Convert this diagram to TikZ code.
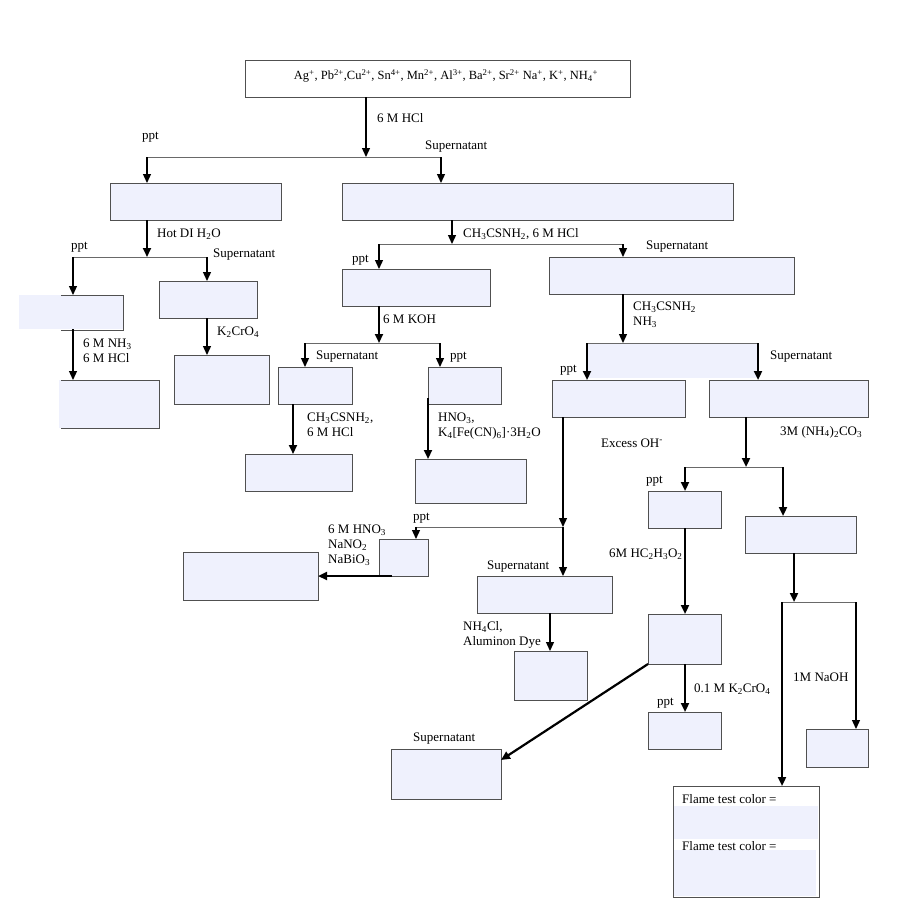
\documentclass[tikz,border=0pt]{standalone}
\usepackage{fontspec}
\setmainfont{Liberation Serif}
\usetikzlibrary{arrows.meta}
\definecolor{boxfill}{RGB}{239,241,253}
\definecolor{bordc}{RGB}{80,80,80}
\definecolor{hlc}{RGB}{105,105,105}
\newcommand\sub[1]{\textsubscript{#1}}
\newcommand\spr[1]{\textsuperscript{#1}}
\newcommand\bx[6][]{\node[bxs,#1,minimum width={#5-#3},minimum height={#6-#4}] (#2) at ({(#3+#5)/2},{(#4+#6)/2}) {};}
\begin{document}
\begin{tikzpicture}[x=1pt,y=-1pt,font=\fontsize{13}{15}\selectfont,
  bxs/.style={draw=bordc,fill=boxfill,line width=0.9pt,inner sep=0pt,outer sep=0pt},
  bd/.style={draw=bordc,line width=0.9pt},
  lbl/.style={inner sep=0pt,anchor=west,align=left},
  arr/.style={line width=1.3pt,-{Triangle[width=8pt,length=9pt]}},
  arrT/.style={line width=2.2pt,-{Triangle[width=8pt,length=9pt]}},
  hl/.style={draw=hlc,line width=0.9pt}]
\useasboundingbox (0,0) rectangle (905,902);
% boxes
\bx[fill=white]{top}{245}{60}{630}{97}
\bx{A}{110}{183}{281}{220}
\bx{B}{342}{183}{733}{220}
\bx[draw=none]{C}{19}{295}{123}{329}
\bx[draw=none]{D}{59}{380}{159}{428}
\bx{E}{159}{281}{257}{318}
\bx{F}{174}{355}{269}{404}
\bx{G}{342}{269}{490}{306}
\bx{H}{549}{257}{794}{294}
\bx{I}{278}{367}{352}{404}
\bx{J}{428}{367}{501}{404}
\bx{K}{245}{454}{352}{491}
\bx{L}{415}{459}{526}{503}
\bx[draw=none]{M}{587}{343}{758}{378}
\bx{N}{552}{380}{685}{417}
\bx{O}{709}{380}{868}{417}
\bx{P}{379}{539}{428}{576}
\bx{Q}{477}{576}{612}{613}
\bx{R}{183}{552}{318}{600}
\bx{S}{514}{651}{587}{700}
\bx{T}{648}{491}{721}{528}
\bx{U}{745}{516}{856}{553}
\bx{V}{648}{614}{721}{664}
\bx{W}{648}{712}{721}{749}
\bx{X}{391}{749}{501}{799}
\bx[fill=white]{Y}{673}{786}{819}{897}
\bx{Z}{806}{729}{868}{767}
\draw[bd] ([xshift=42pt]C.north west) -- (C.north east) -- ([yshift=-1pt]C.south east) -- ([xshift=42pt,yshift=-1pt]C.south west);
\draw[bd] ([xshift=2pt]D.north west) -- (D.north east) -- (D.south east) -- ([xshift=2pt]D.south west);
\fill[boxfill] (673.6,806) rectangle (818.4,839);
\fill[boxfill] (673.6,850) rectangle (816,896.4);
% coordinates
\coordinate (j1) at (366,157); \coordinate (j1a) at (147,157); \coordinate (j1b) at (441,157);
\coordinate (j2) at (147,257); \coordinate (j2a) at (73,257); \coordinate (j2b) at (207,257);
\coordinate (j3) at (452,244); \coordinate (j3a) at (379,244); \coordinate (j3b) at (623,244);
\coordinate (j4) at (379,343); \coordinate (j4a) at (305,343); \coordinate (j4b) at (440,343);
\coordinate (cI) at (293,0);
\coordinate (j5) at (563,527); \coordinate (j5a) at (416,527);
\coordinate (pr) at (392,576);
\coordinate (cQ) at (550,0);
\coordinate (j6) at (746,467); \coordinate (j6a) at (685,467); \coordinate (j6b) at (783,467);
\coordinate (xend) at (501,760);
\coordinate (j7) at (794,602); \coordinate (j7a) at (782,602); \coordinate (j7b) at (856,602);
% connectors
\draw[arr] (top.south -| j1) -- (j1);
\draw[hl] (j1a) -- (j1b);
\draw[arr] (j1a) -- (A.north -| j1a);
\draw[arr] (j1b) -- (B.north -| j1b);
\draw[arrT] (A.south -| j2) -- (j2);
\draw[hl] (j2a) -- (j2b);
\draw[arr] (j2a) -- (C.north -| j2a);
\draw[arr] (j2b) -- (E.north -| j2b);
\draw[arr] (C.south -| j2a) -- (D.north -| j2a);
\draw[arr] (E.south -| j2b) -- (F.north -| j2b);
\draw[arr] (B.south -| j3) -- (j3);
\draw[hl] (j3a) -- (j3b);
\draw[arr] (j3a) -- (G.north -| j3a);
\draw[arr] (j3b) -- (H.north -| j3b);
\draw[arrT] (G.south -| j4) -- (j4);
\draw[hl] (j4a) -- (j4b);
\draw[arr] (j4a) -- (I.north -| j4a);
\draw[arr] (j4b) -- (J.north -| j4b);
\draw[arrT] (I.south -| cI) -- (K.north -| cI);
\draw[arrT] ([yshift=6pt]J.south west) -- (L.north -| J.south west);
\draw[arr] (H.south -| j3b) -- (M.north -| j3b);
\draw[hl] (M.north west) -- (M.north east);
\draw[arrT] (M.north west) -- (N.north -| M.north west);
\draw[arrT] (M.north east) -- (O.north -| M.north east);
\draw[hl] (j5a) -- (j5);
\draw[arr] (N.south -| j5) -- (j5);
\draw[arr] (j5) -- (Q.north -| j5);
\draw[arr] (j5a) -- (P.north -| j5a);
\draw[arrT] (pr) -- (R.east |- pr);
\draw[arr] (Q.south -| cQ) -- (S.north -| cQ);
\draw[arrT] (O.south -| j6) -- (j6);
\draw[hl] (j6a) -- (j6b);
\draw[arrT] (j6a) -- (T.north -| j6a);
\draw[arrT] (j6b) -- (U.north -| j6b);
\draw[arrT] (T.south -| j6a) -- (V.north -| j6a);
\draw[arrT] (V.south -| j6a) -- (W.north -| j6a);
\draw[arrT] (V.south west) -- (xend);
\draw[arrT] (U.south -| j7) -- (j7);
\draw[hl] (j7a) -- (j7b);
\draw[arrT] (j7a) -- (Y.north -| j7a);
\draw[arr] (j7b) -- (Z.north -| j7b);
% texts
\node[inner sep=0pt,font=\fontsize{12.5}{15}\selectfont] (ttop) at (446,76) {Ag\spr{+}, Pb\spr{2+},Cu\spr{2+}, Sn\spr{4+}, Mn\spr{2+}, Al\spr{3+}, Ba\spr{2+}, Sr\spr{2+} Na\spr{+}, K\spr{+}, NH\sub{4}\spr{+}};
\node[lbl] (l1) at (377,118) {6 M HCl};
\node[lbl] (l2) at (142,137) {ppt};
\node[lbl] (l3) at (425,147) {Supernatant};
\node[lbl] (l4) at (157,234) {Hot DI H\sub{2}O};
\node[lbl] (l5) at (71,247) {ppt};
\node[lbl] (l6) at (213,255) {Supernatant};
\node[lbl] (l7) at (83,351) {6 M NH\sub{3}\\6 M HCl};
\node[lbl] (l8) at (217,332) {K\sub{2}CrO\sub{4}};
\node[lbl] (l9) at (463,234) {CH\sub{3}CSNH\sub{2}, 6 M HCl};
\node[lbl] (l10) at (352,260) {ppt};
\node[lbl] (l11) at (646,247) {Supernatant};
\node[lbl] (l12) at (383,319) {6 M KOH};
\node[lbl] (l13) at (316,357) {Supernatant};
\node[lbl] (l14) at (450,357) {ppt};
\node[lbl] (l15) at (307,425) {CH\sub{3}CSNH\sub{2},\\6 M HCl};
\node[lbl] (l16) at (438,426) {HNO\sub{3},\\K\sub{4}[Fe(CN)\sub{6}]·3H\sub{2}O};
\node[lbl] (l17) at (633,315) {CH\sub{3}CSNH\sub{2}\\NH\sub{3}};
\node[lbl] (l18) at (560,370) {ppt};
\node[lbl] (l19) at (770,357) {Supernatant};
\node[lbl] (l20) at (601,443) {Excess OH\spr{-}};
\node[lbl] (l21) at (780,432) {3M (NH\sub{4})\sub{2}CO\sub{3}};
\node[lbl] (l22) at (646,481) {ppt};
\node[lbl] (l23) at (413,518) {ppt};
\node[lbl] (l24) at (328,545) {6 M HNO\sub{3}\\NaNO\sub{2}\\NaBiO\sub{3}};
\node[lbl] (l25) at (487,567) {Supernatant};
\node[lbl] (l26) at (463,635) {NH\sub{4}Cl,\\Aluminon Dye};
\node[lbl] (l27) at (609,554) {6M HC\sub{2}H\sub{3}O\sub{2}};
\node[lbl] (l28) at (694,689) {0.1 M K\sub{2}CrO\sub{4}};
\node[lbl] (l29) at (657,703) {ppt};
\node[lbl] (l30) at (413,739) {Supernatant};
\node[lbl] (l31) at (793,677) {1M NaOH};
\node[lbl] (l32) at (682,799) {Flame test color =};
\node[lbl] (l33) at (682,846) {Flame test color =};
\end{tikzpicture}
\end{document}
